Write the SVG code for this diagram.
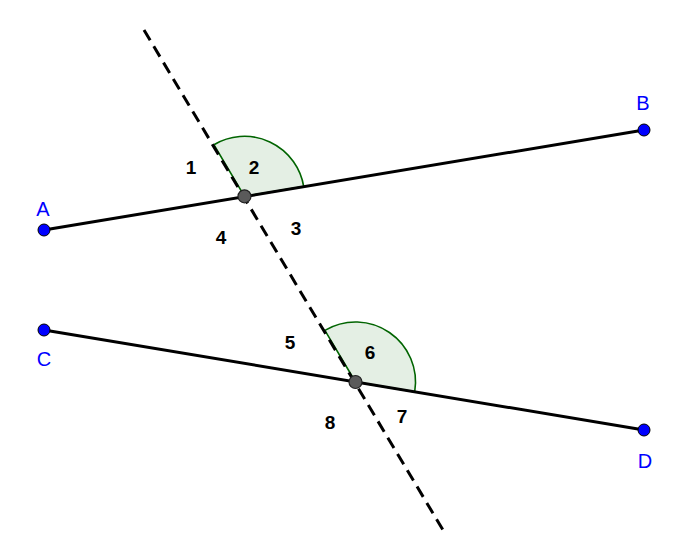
<svg xmlns="http://www.w3.org/2000/svg" width="674" height="546" viewBox="0 0 674 546">
<style>
.line{stroke:#000;stroke-width:3;fill:none;stroke-linecap:round}
.dash{stroke:#000;stroke-width:3;fill:none;stroke-dasharray:12,7}
.sector{fill:#e4efe4;stroke:#006400;stroke-width:1.6}
.pt{fill:#0000ff;stroke:#000;stroke-width:1}
.ix{fill:#5a5a5a;stroke:#222;stroke-width:1.2}
.lbl{font-family:"Liberation Sans",Arial,sans-serif;font-size:20px;fill:#0000ff;text-anchor:middle}
.num{font-family:"Liberation Sans",Arial,sans-serif;font-size:19px;font-weight:bold;fill:#000;text-anchor:middle}
</style>
<rect width="674" height="546" fill="#fff"/>
<g id="angles">
<path class="sector" d="M244.5,196.3 L213.9,144.7 A60,60 0 0 1 303.7,186.5 Z"/>
<path class="sector" d="M355.5,382 L324.9,330.4 A60,60 0 0 1 414.7,391.9 Z"/>
</g>
<g id="connectors">
<line id="AB" class="line" x1="44" y1="230" x2="644" y2="130"/>
<line id="CD" class="line" x1="44" y1="330" x2="644" y2="430"/>
<line id="transversal" class="dash" x1="144" y1="30" x2="443" y2="530"/>
</g>
<g id="A"><circle class="pt" cx="44" cy="230" r="6"/><text class="lbl" x="43" y="216">A</text></g>
<g id="B"><circle class="pt" cx="644" cy="130" r="6"/><text class="lbl" x="643" y="110">B</text></g>
<g id="C"><circle class="pt" cx="44" cy="330" r="6"/><text class="lbl" x="44" y="366">C</text></g>
<g id="D"><circle class="pt" cx="644" cy="430" r="6"/><text class="lbl" x="645" y="468">D</text></g>
<g id="P1"><circle class="ix" cx="244.5" cy="196.3" r="6.5"/></g>
<g id="P2"><circle class="ix" cx="355.5" cy="382" r="6.5"/></g>
<g id="labels">
<text class="num" x="191" y="174">1</text>
<text class="num" x="254" y="174">2</text>
<text class="num" x="296" y="235">3</text>
<text class="num" x="221" y="244">4</text>
<text class="num" x="290" y="349">5</text>
<text class="num" x="370" y="359">6</text>
<text class="num" x="402" y="423">7</text>
<text class="num" x="330" y="429">8</text>
</g>
</svg>
